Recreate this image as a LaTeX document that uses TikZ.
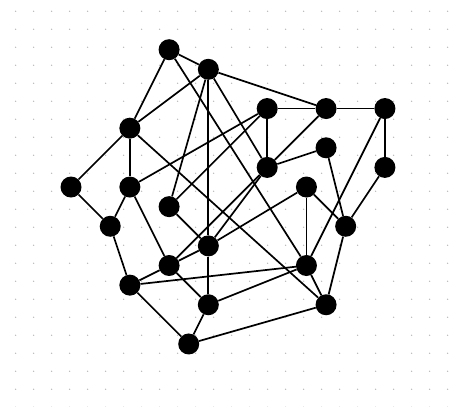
\documentclass[tikz,border=0pt]{standalone}
\usetikzlibrary{positioning}
\tikzset{
	vertex/.style={
		circle,
		fill=black,
		inner sep=0mm,
		minimum size=21pt,
	},
	link/.style={
		draw,
		line width=1.7pt,
	},
	griddot/.style={
		fill=black!28,
	}
}
\begin{document}
\begin{tikzpicture}[x=19.62pt, y=19.62pt]
\useasboundingbox (-3.619,-3.211) rectangle (19.572,17.533);

% dotted background
\foreach \ii in {0,...,24} {
	\foreach \jj in {0,...,22} {
		\pgfmathsetmacro\px{15.6 + 18*\ii - 71};
		\pgfmathsetmacro\py{332.7 - 18*\jj};
		\fill[griddot] (\px pt, \py pt) circle (0.7pt);
	};
};

\node(v1)[vertex] at (5,15) {};
\node(v2)[vertex] at (7,14) {};
\node(v3)[vertex] at (10,12) {};
\node(v4)[vertex] at (13,12) {};
\node(v5)[vertex] at (16,12) {};
\node(v6)[vertex] at (3,11) {};
\node(v7)[vertex] at (13,10) {};
\node(v8)[vertex] at (10,9) {};
\node(v9)[vertex] at (16,9) {};
\node(v10)[vertex] at (0,8) {};
\node(v11)[vertex] at (3,8) {};
\node(v12)[vertex] at (12,8) {};
\node(v13)[vertex] at (5,7) {};
\node(v14)[vertex] at (2,6) {};
\node(v15)[vertex] at (14,6) {};
\node(v16)[vertex] at (7,5) {};
\node(v17)[vertex] at (5,4) {};
\node(v18)[vertex] at (12,4) {};
\node(v19)[vertex] at (3,3) {};
\node(v20)[vertex] at (7,2) {};
\node(v21)[vertex] at (13,2) {};
\node(v22)[vertex] at (6,0) {};

\path[link] (v1) edge (v2) edge (v6) edge (v18);
\path[link] (v2) edge (v6) edge (v4) edge (v16) edge (v13) edge (v8);
\path[link] (v6) edge (v10) edge (v11) edge (v21);
\path[link] (v11) edge (v14) edge (v17) edge (v3);
\path[link] (v13) edge (v3) edge (v16);
\path[link] (v3) edge (v4) edge (v8);
\path[link] (v4) edge (v5) edge (v8);
\path[link] (v5) edge (v9) edge (v18);
\path[link] (v9) edge (v15);
\path[link] (v7) edge (v8) edge (v15);
\path[link] (v8) edge (v16) edge (v17);
\path[link] (v12) edge (v18) edge (v15) edge (v16);
\path[link] (v16) edge (v17) edge (v20);
\path[link] (v14) edge (v10) edge (v19);
\path[link] (v19) edge (v17) edge (v18) edge (v22);
\path[link] (v20) edge (v17) edge (v22) edge (v18);
\path[link] (v21) edge (v22) edge (v15) edge (v18);

\end{tikzpicture}
\end{document}
